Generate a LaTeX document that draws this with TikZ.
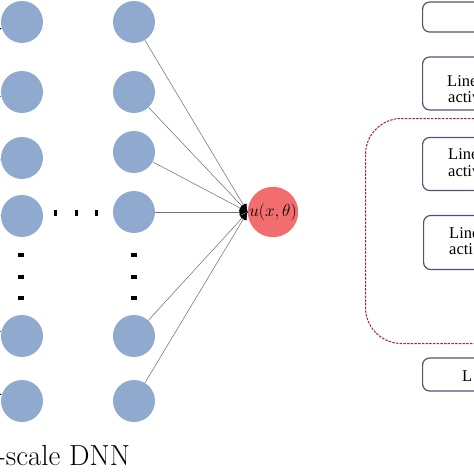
\documentclass[tikz,border=0pt]{standalone}
\usepackage{fontspec}
\newfontfamily\boxfont{Liberation Serif}
\usetikzlibrary{arrows.meta}
\definecolor{neuronc}{HTML}{8FAACE}
\definecolor{outc}{HTML}{F26E6E}
\definecolor{boxline}{HTML}{4A5670}
\definecolor{dashred}{HTML}{A3262E}
\begin{document}
\begin{tikzpicture}[x=1pt,y=-1pt,
  neuron/.style={circle, fill=neuronc, minimum size=42pt, inner sep=0pt},
  outnode/.style={circle, fill=outc, minimum size=48pt, inner sep=0pt, font=\fontsize{16}{18}\selectfont},
  conn/.style={draw=black!55, line width=0.55pt, -{Latex[length=8pt,width=7pt,color=black]}},
  inconn/.style={draw=black, line width=0.6pt, -{Latex[length=8pt,width=8pt,color=black]}},
  dotv/.style={rectangle, fill=black, minimum width=3pt, minimum height=6pt, inner sep=0pt},
  doth/.style={rectangle, fill=black, minimum width=6pt, minimum height=3.5pt, inner sep=0pt},
  layerbox/.style={draw=boxline, line width=1.2pt, rounded corners=7pt, minimum width=140pt, inner sep=0pt, anchor=west},
  boxtext/.style={anchor=base west, font=\boxfont\fontsize{16.5}{18}\selectfont, inner sep=0pt},
  groupbox/.style={draw=dashred, line width=1pt, dash pattern=on 2.5pt off 1.2pt, rounded corners=36pt, minimum width=200pt, minimum height=225pt, inner sep=0pt, anchor=north west}
 ]
\useasboundingbox (0,0) rectangle (474,474);
\clip (0,0) rectangle (474,474);
% left column
\node[neuron] (a1) at (22,22) {};
\node[neuron] (a2) at (22,92) {};
\node[neuron] (a3) at (22,158) {};
\node[neuron] (a4) at (22,216) {};
\node[neuron] (a5) at (22,336) {};
\node[neuron] (a6) at (22,401) {};
% right column
\node[neuron] (b1) at (134,22) {};
\node[neuron] (b2) at (134,92) {};
\node[neuron] (b3) at (134,152) {};
\node[neuron] (b4) at (134,212) {};
\node[neuron] (b5) at (134,336) {};
\node[neuron] (b6) at (134,401) {};
% output
\node[outnode] (out) at (273,212) {$u(x,\theta)$};
% input arrows (source off the picture)
\coordinate (src) at (-600,213);
\foreach \n in {a1,a2,a3,a4,a5,a6} \draw[inconn] (src) -- (\n);
% connections to output
\foreach \n in {b1,b2,b3,b4,b5,b6} \draw[conn] (\n) -- (out.west);
% dots
\node[dotv] (h1) at (55,213) {};
\node[dotv] (h2) at (76,213) {};
\node[dotv] (h3) at (96,213) {};
\node[doth] (v1) at (21,255) {};
\node[doth] (v2) at (21,277) {};
\node[doth] (v3) at (21,298) {};
\node[doth] (w1) at (134,255) {};
\node[doth] (w2) at (134,277) {};
\node[doth] (w3) at (134,298) {};
% caption
\node[anchor=base west, font=\fontsize{29}{33}\selectfont, inner sep=0pt] (cap) at (-3,465) {-scale DNN};
% right side
\node[groupbox] (grp) at (365,118) {};
\node[layerbox, minimum height=30pt] (L1) at (422,17) {};
\node[layerbox, minimum height=53pt] (L2) at (422,83.5) {};
\node[layerbox, minimum height=53pt] (L3) at (422,164) {};
\node[layerbox, minimum height=54pt] (L4) at (423,242.5) {};
\node[layerbox, minimum height=33pt] (L5) at (422,374.5) {};
\node[boxtext] (t2a) at (447,86) {Line};
\node[boxtext] (t2b) at (448,102) {activ};
\node[boxtext] (t3a) at (448,159) {Line};
\node[boxtext] (t3b) at (448,176) {activ};
\node[boxtext] (t4a) at (449,238) {Line};
\node[boxtext] (t4b) at (449,254) {acti};
\node[boxtext] (t5a) at (462,381) {L};
\end{tikzpicture}
\end{document}
